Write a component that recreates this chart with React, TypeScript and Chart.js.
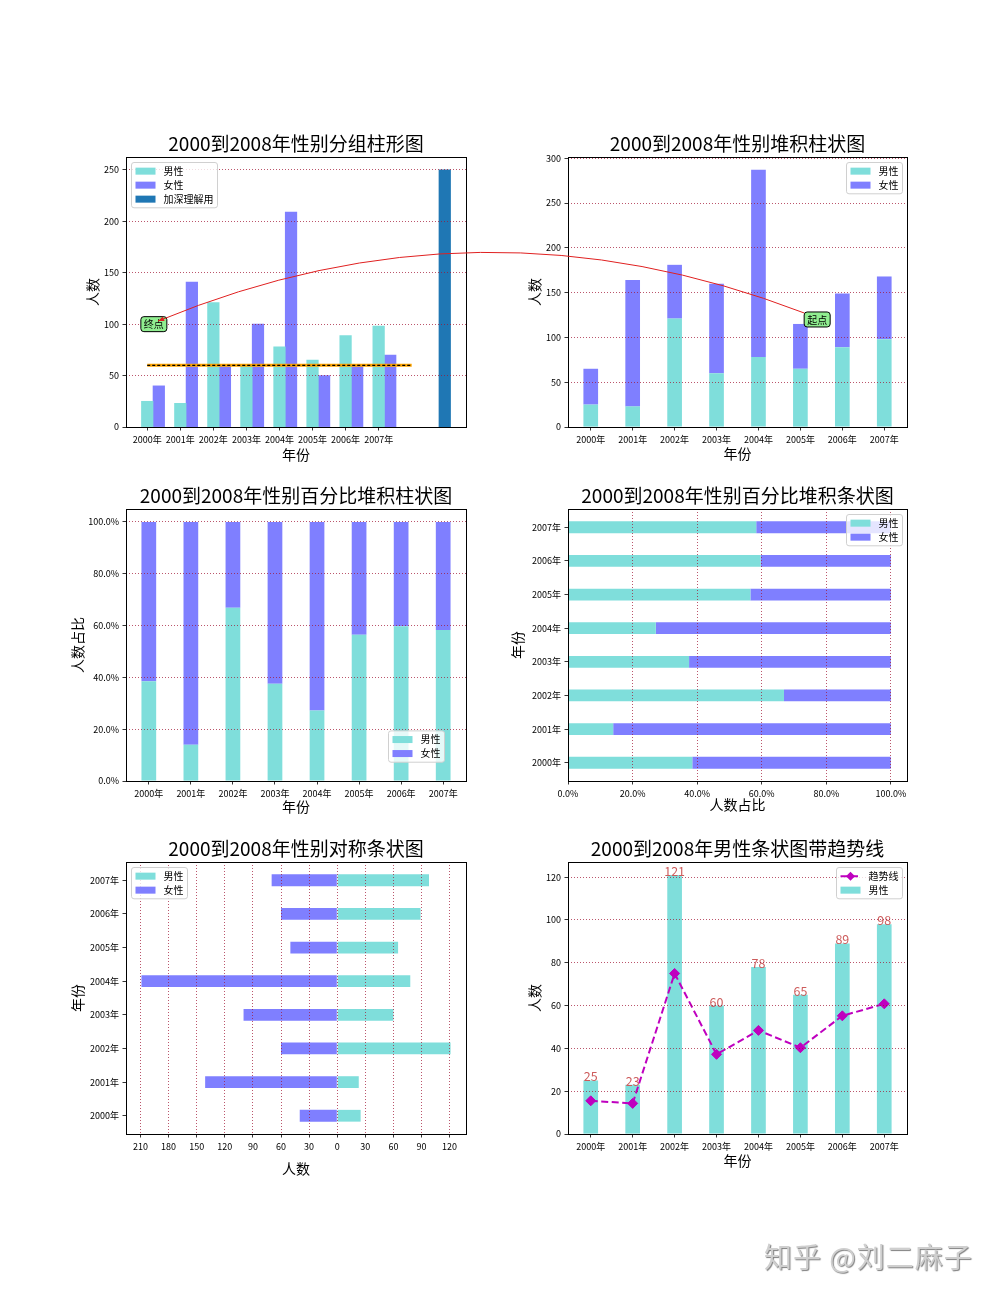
import React, { useEffect, useRef } from 'react';
import { Chart, registerables } from 'chart.js';

Chart.register(...registerables);

const FONT = '"Noto Sans CJK SC", "Noto Sans", sans-serif';

// ---------------- data ----------------
const YEARS = ['2000年', '2001年', '2002年', '2003年', '2004年', '2005年', '2006年', '2007年'];
const YEAR_POS = [0, 1, 2, 3, 4, 5, 6, 7];
const MALE = [25, 23, 121, 60, 78, 65, 89, 98];
const FEMALE = [40, 141, 60, 100, 209, 50, 60, 70];
const MALE_PCT = [38.5, 14.0, 66.9, 37.5, 27.2, 56.5, 59.7, 58.3];
const FEMALE_PCT = [61.5, 86.0, 33.1, 62.5, 72.8, 43.5, 40.3, 41.7];
const TREND = [15.5, 14.3, 75.0, 37.2, 48.4, 40.3, 55.2, 60.8];
const EXTRA_LABEL = '加深理解用';
const EXTRA_X = [9];
const EXTRA_VALUE = [250];
const REF_LINE_VALUE = 60;
const REF_LINE_SPAN = [0, 8];
const GROUP_SHIFT = 0.35;
const TICKS_C1 = [0, 50, 100, 150, 200, 250];
const TICKS_C2 = [0, 50, 100, 150, 200, 250, 300];
const TICKS_PCT = [0, 20, 40, 60, 80, 100];
const TICKS_SYM = [-210, -180, -150, -120, -90, -60, -30, 0, 30, 60, 90, 120];
const TICKS_C6 = [0, 20, 40, 60, 80, 100, 120];
const ANNOT_END = { label: '终点', x: 0.2, y: 100, tipX: 0.33, tipY: 103 };
const ANNOT_START = { label: '起点', x: 5.4, y: 120 };

// ---------------- styles ----------------
const C_MALE = '#7fdedb';
const C_FEMALE = '#7f7fff';
const C_EXTRA = '#1f77b4';
const C_TREND = '#bf00bf';
const C_GRID = 'rgba(160,20,50,0.9)';
const C_LABEL = '#cd5c5c';

const AX_W = 70;
const TITLE_H = 40;
const AX_H = 50;
const PAD_R = 25;

type Rect = { L: number; T: number; R: number; B: number };
const RECTS: Rect[] = [
  { L: 126, T: 157, R: 466, B: 427 },
  { L: 568, T: 157, R: 907, B: 427 },
  { L: 126, T: 509, R: 466, B: 781 },
  { L: 568, T: 509, R: 907, B: 781 },
  { L: 126, T: 862, R: 466, B: 1134 },
  { L: 568, T: 862, R: 907, B: 1134 },
];

const yearFmt = (v: number) => YEARS[Math.round(v)] ?? '';
const numFmt = (v: number) => String(v);
const pctFmt = (v: number) => `${v.toFixed(1)}%`;
const absFmt = (v: number) => String(Math.abs(v));

type AxisSpec = {
  min: number;
  max: number;
  ticks: number[];
  fmt: (v: number) => string;
  grid: boolean;
  title: string;
  titleOffset: number;
  stacked?: boolean;
};

function axis(s: AxisSpec, horizontal: boolean): any {
  return {
    type: 'linear',
    min: s.min,
    max: s.max,
    offset: false,
    stacked: !!s.stacked,
    afterBuildTicks: (sc: any) => {
      sc.ticks = s.ticks.map((v) => ({ value: v }));
    },
    afterFit: (sc: any) => {
      if (horizontal) sc.height = AX_H;
      else sc.width = AX_W;
    },
    ticks: {
      autoSkip: false,
      maxRotation: 0,
      minRotation: 0,
      padding: 3.5,
      color: '#000',
      font: { family: FONT, size: 9 },
      callback: (v: any) => s.fmt(Number(v)),
    },
    grid: {
      display: true,
      drawOnChartArea: s.grid,
      drawTicks: true,
      tickLength: 3.5,
      tickColor: '#000',
      tickWidth: 0.8,
      color: C_GRID,
      lineWidth: 0.8,
      offset: false,
      z: 1,
    },
    border: { display: false, dash: [1, 2] },
    title: {
      display: true,
      text: s.title,
      color: '#000',
      font: { family: FONT, size: 14 },
      padding: horizontal ? { top: 0, bottom: s.titleOffset } : { top: s.titleOffset, bottom: 0 },
    },
  };
}

function baseOptions(title: string, scales: any, extra: any = {}): any {
  return {
    responsive: false,
    maintainAspectRatio: false,
    animation: false,
    layout: { padding: { left: 0, top: 0, right: PAD_R, bottom: 0 } },
    plugins: {
      legend: { display: false },
      tooltip: { enabled: false },
      title: {
        display: true,
        text: title,
        color: '#000',
        font: { family: FONT, size: 19, weight: 'normal' },
        padding: { top: 15.6, bottom: 1.6 },
        fullSize: false,
      },
    },
    scales,
    ...extra,
  };
}

// ---------------- plugins ----------------
const framePlugin = {
  id: 'frame',
  afterDraw(chart: any) {
    const { ctx, chartArea: a } = chart;
    ctx.save();
    ctx.strokeStyle = '#000';
    ctx.lineWidth = 1;
    const l = Math.round(a.left), t = Math.round(a.top), r = Math.round(a.right), b = Math.round(a.bottom);
    ctx.strokeRect(l + 0.5, t + 0.5, r - l, b - t);
    ctx.restore();
  },
};

function roundRect(ctx: CanvasRenderingContext2D, x: number, y: number, w: number, h: number, r: number) {
  ctx.beginPath();
  ctx.moveTo(x + r, y);
  ctx.lineTo(x + w - r, y);
  ctx.quadraticCurveTo(x + w, y, x + w, y + r);
  ctx.lineTo(x + w, y + h - r);
  ctx.quadraticCurveTo(x + w, y + h, x + w - r, y + h);
  ctx.lineTo(x + r, y + h);
  ctx.quadraticCurveTo(x, y + h, x, y + h - r);
  ctx.lineTo(x, y + r);
  ctx.quadraticCurveTo(x, y, x + r, y);
  ctx.closePath();
}

function drawDiamond(ctx: CanvasRenderingContext2D, x: number, y: number, r: number) {
  ctx.beginPath();
  ctx.moveTo(x, y - r);
  ctx.lineTo(x + r, y);
  ctx.lineTo(x, y + r);
  ctx.lineTo(x - r, y);
  ctx.closePath();
  ctx.fill();
}

function legendPlugin(cfg: { labels: string[]; corner: 'ul' | 'ur' | 'lr'; dx?: number; dy?: number }) {
  return {
    id: 'mplLegend',
    afterDraw(chart: any) {
      const ctx: CanvasRenderingContext2D = chart.ctx;
      const a = chart.chartArea;
      ctx.save();
      ctx.font = `10px ${FONT}`;
      const items = cfg.labels.map((l) => ({ label: l, ds: chart.data.datasets.find((d: any) => d.label === l) }));
      const tw = Math.max(...items.map((i) => ctx.measureText(i.label).width));
      const pad = 4, rowH = 9.3, gap = 4.7, hl = 20, htp = 8;
      const w = pad * 2 + hl + htp + tw;
      const h = pad * 2 + items.length * rowH + (items.length - 1) * gap;
      const dx = cfg.dx ?? 5, dy = cfg.dy ?? 5;
      const x = cfg.corner === 'ul' ? a.left + dx : a.right - dx - w;
      const y = cfg.corner === 'lr' ? a.bottom - dy - h : a.top + dy;
      roundRect(ctx, x + 0.5, y + 0.5, w, h, 2.5);
      ctx.fillStyle = 'rgba(255,255,255,0.8)';
      ctx.fill();
      ctx.strokeStyle = '#d0d0d0';
      ctx.lineWidth = 1;
      ctx.stroke();
      items.forEach((it, i) => {
        const cy = y + pad + rowH / 2 + i * (rowH + gap) + 0.5;
        const hx = x + pad + 0.5;
        const ds = it.ds || {};
        if (ds.type === 'line') {
          ctx.strokeStyle = ds.borderColor;
          ctx.lineWidth = ds.borderWidth || 1.5;
          ctx.setLineDash(ds.borderDash || []);
          ctx.beginPath();
          ctx.moveTo(hx, cy);
          ctx.lineTo(hx + hl, cy);
          ctx.stroke();
          ctx.setLineDash([]);
          ctx.fillStyle = ds.pointBackgroundColor || ds.borderColor;
          drawDiamond(ctx, hx + hl / 2, cy, 4.5);
        } else {
          ctx.fillStyle = ds.backgroundColor;
          ctx.fillRect(hx, cy - 3.5, hl, 7);
        }
        ctx.fillStyle = '#000';
        ctx.textAlign = 'left';
        ctx.textBaseline = 'middle';
        ctx.fillText(it.label, hx + hl + htp, cy);
      });
      ctx.restore();
    },
  };
}

function valueLabelPlugin(datasetLabel: string, values: number[]) {
  return {
    id: 'valueLabels',
    afterDatasetsDraw(chart: any) {
      const idx = chart.data.datasets.findIndex((d: any) => d.label === datasetLabel);
      if (idx < 0) return;
      const meta = chart.getDatasetMeta(idx);
      const ctx: CanvasRenderingContext2D = chart.ctx;
      ctx.save();
      ctx.font = `12.5px ${FONT}`;
      ctx.fillStyle = C_LABEL;
      ctx.textAlign = 'center';
      ctx.textBaseline = 'alphabetic';
      meta.data.forEach((el: any, i: number) => {
        ctx.fillText(String(values[i]), el.x, el.y + 1);
      });
      ctx.restore();
    },
  };
}

const barStyle = (pct: number) => ({
  type: 'bar',
  borderWidth: 0,
  barPercentage: pct,
  categoryPercentage: 1,
  grouped: false,
  order: 1,
});

// ---------------- chart configs ----------------
function chart1(): any {
  return {
    type: 'bar',
    data: {
      datasets: [
        {
          type: 'line', label: '参考线', order: 0,
          data: REF_LINE_SPAN.map((x) => ({ x, y: REF_LINE_VALUE })),
          borderColor: 'orange', borderWidth: 3, pointRadius: 0,
        },
        {
          type: 'line', label: '参考线虚线', order: -1,
          data: REF_LINE_SPAN.map((x) => ({ x, y: REF_LINE_VALUE })),
          borderColor: '#000', borderWidth: 1.2, borderDash: [3, 2], pointRadius: 0,
        },
        { ...barStyle(1), label: '男性', backgroundColor: C_MALE, data: YEAR_POS.map((x, i) => ({ x, y: MALE[i] })) },
        { ...barStyle(1), label: '女性', backgroundColor: C_FEMALE, data: YEAR_POS.map((x, i) => ({ x: x + GROUP_SHIFT, y: FEMALE[i] })) },
        { ...barStyle(1), label: EXTRA_LABEL, backgroundColor: C_EXTRA, data: EXTRA_X.map((x, i) => ({ x, y: EXTRA_VALUE[i] })) },
      ],
    },
    options: baseOptions('2000到2008年性别分组柱形图', {
      x: axis({ min: -0.6425, max: 9.6425, ticks: YEAR_POS, fmt: yearFmt, grid: false, title: '年份', titleOffset: 13.6 }, true),
      y: axis({ min: 0, max: 262.5, ticks: TICKS_C1, fmt: numFmt, grid: true, title: '人数', titleOffset: 28.6 }, false),
    }),
    plugins: [framePlugin, legendPlugin({ labels: ['男性', '女性', EXTRA_LABEL], corner: 'ul' })],
  };
}

function chart2(): any {
  return {
    type: 'bar',
    data: {
      datasets: [
        { ...barStyle(0.35), grouped: true, label: '男性', backgroundColor: C_MALE, data: YEAR_POS.map((x, i) => ({ x, y: MALE[i] })) },
        { ...barStyle(0.35), grouped: true, label: '女性', backgroundColor: C_FEMALE, data: YEAR_POS.map((x, i) => ({ x, y: FEMALE[i] })) },
      ],
    },
    options: baseOptions('2000到2008年性别堆积柱状图', {
      x: axis({ min: -0.5425, max: 7.5425, ticks: YEAR_POS, fmt: yearFmt, grid: false, title: '年份', titleOffset: 15.3, stacked: true }, true),
      y: axis({ min: 0, max: 301.35, ticks: TICKS_C2, fmt: numFmt, grid: true, title: '人数', titleOffset: 28.6, stacked: true }, false),
    }),
    plugins: [framePlugin, legendPlugin({ labels: ['男性', '女性'], corner: 'ur' })],
  };
}

function chart3(): any {
  return {
    type: 'bar',
    data: {
      datasets: [
        { ...barStyle(0.35), grouped: true, label: '男性', backgroundColor: C_MALE, data: YEAR_POS.map((x, i) => ({ x, y: MALE_PCT[i] })) },
        { ...barStyle(0.35), grouped: true, label: '女性', backgroundColor: C_FEMALE, data: YEAR_POS.map((x, i) => ({ x, y: FEMALE_PCT[i] })) },
      ],
    },
    options: baseOptions('2000到2008年性别百分比堆积柱状图', {
      x: axis({ min: -0.5425, max: 7.5425, ticks: YEAR_POS, fmt: yearFmt, grid: false, title: '年份', titleOffset: 15.9, stacked: true }, true),
      y: axis({ min: 0, max: 105, ticks: TICKS_PCT, fmt: pctFmt, grid: true, title: '人数占比', titleOffset: 13.6, stacked: true }, false),
    }),
    plugins: [framePlugin, legendPlugin({ labels: ['男性', '女性'], corner: 'lr', dx: 22, dy: 19.3 })],
  };
}

function chart4(): any {
  return {
    type: 'bar',
    data: {
      datasets: [
        { ...barStyle(0.35), grouped: true, label: '男性', backgroundColor: C_MALE, data: YEAR_POS.map((y, i) => ({ x: MALE_PCT[i], y })) },
        { ...barStyle(0.35), grouped: true, label: '女性', backgroundColor: C_FEMALE, data: YEAR_POS.map((y, i) => ({ x: FEMALE_PCT[i], y })) },
      ],
    },
    options: baseOptions(
      '2000到2008年性别百分比堆积条状图',
      {
        x: axis({ min: 0, max: 105, ticks: TICKS_PCT, fmt: pctFmt, grid: true, title: '人数占比', titleOffset: 17.6, stacked: true }, true),
        y: axis({ min: -0.5425, max: 7.5425, ticks: YEAR_POS, fmt: yearFmt, grid: false, title: '年份', titleOffset: 11.6, stacked: true }, false),
      },
      { indexAxis: 'y' }
    ),
    plugins: [framePlugin, legendPlugin({ labels: ['男性', '女性'], corner: 'ur' })],
  };
}

function chart5(): any {
  return {
    type: 'bar',
    data: {
      datasets: [
        { ...barStyle(0.35), label: '男性', backgroundColor: C_MALE, data: YEAR_POS.map((y, i) => ({ x: MALE[i], y })) },
        { ...barStyle(0.35), label: '女性', backgroundColor: C_FEMALE, data: YEAR_POS.map((y, i) => ({ x: -FEMALE[i], y })) },
      ],
    },
    options: baseOptions(
      '2000到2008年性别对称条状图',
      {
        x: axis({ min: -225.5, max: 137.5, ticks: TICKS_SYM, fmt: absFmt, grid: true, title: '人数', titleOffset: 7.3 }, true),
        y: axis({ min: -0.5425, max: 7.5425, ticks: YEAR_POS, fmt: yearFmt, grid: false, title: '年份', titleOffset: 13.6 }, false),
      },
      { indexAxis: 'y' }
    ),
    plugins: [framePlugin, legendPlugin({ labels: ['男性', '女性'], corner: 'ul' })],
  };
}

function chart6(): any {
  return {
    type: 'bar',
    data: {
      datasets: [
        {
          type: 'line', label: '趋势线', order: 0,
          data: YEAR_POS.map((x, i) => ({ x, y: TREND[i] })),
          borderColor: C_TREND, borderWidth: 2, borderDash: [7, 3.5],
          pointStyle: 'rectRot', pointRadius: 5, pointBackgroundColor: C_TREND, pointBorderColor: C_TREND, pointBorderWidth: 1,
          tension: 0, fill: false,
        },
        { ...barStyle(0.35), label: '男性', backgroundColor: C_MALE, data: YEAR_POS.map((x, i) => ({ x, y: MALE[i] })) },
      ],
    },
    options: baseOptions('2000到2008年男性条状图带趋势线', {
      x: axis({ min: -0.5425, max: 7.5425, ticks: YEAR_POS, fmt: yearFmt, grid: false, title: '年份', titleOffset: 14.9 }, true),
      y: axis({ min: 0, max: 127.05, ticks: TICKS_C6, fmt: numFmt, grid: true, title: '人数', titleOffset: 28.6 }, false),
    }),
    plugins: [framePlugin, valueLabelPlugin('男性', MALE), legendPlugin({ labels: ['趋势线', '男性'], corner: 'ur' })],
  };
}

const MAKERS = [chart1, chart2, chart3, chart4, chart5, chart6];

// ---------------- cross-axes annotation ----------------
function drawAnnotation(canvas: HTMLCanvasElement, c1: any, c2: any) {
  const dpr = window.devicePixelRatio || 1;
  canvas.width = 1008 * dpr;
  canvas.height = 1296 * dpr;
  const ctx = canvas.getContext('2d')!;
  ctx.setTransform(dpr, 0, 0, dpr, 0, 0);
  ctx.clearRect(0, 0, 1008, 1296);
  const off = (i: number) => ({ x: RECTS[i].L - AX_W, y: RECTS[i].T - TITLE_H });
  const o1 = off(0), o2 = off(1);
  const px = (ch: any, o: { x: number; y: number }, x: number, y: number) => ({
    x: o.x + ch.scales.x.getPixelForValue(x),
    y: o.y + ch.scales.y.getPixelForValue(y),
  });
  const endC = px(c1, o1, ANNOT_END.x, ANNOT_END.y);
  const tip = px(c1, o1, ANNOT_END.tipX, ANNOT_END.tipY);
  const startC = px(c2, o2, ANNOT_START.x, ANNOT_START.y);
  ctx.font = `10px ${FONT}`;
  const box = (c: { x: number; y: number }, label: string) => {
    const tw = ctx.measureText(label).width;
    const w = tw + 6, h = 15;
    roundRect(ctx, c.x - w / 2, c.y - h / 2, w, h, 3);
    ctx.fillStyle = '#90ee90';
    ctx.fill();
    ctx.strokeStyle = '#000';
    ctx.lineWidth = 1;
    ctx.stroke();
    ctx.fillStyle = '#000';
    ctx.textAlign = 'center';
    ctx.textBaseline = 'middle';
    ctx.fillText(label, c.x, c.y + 0.5);
    return { w, h };
  };
  box(endC, ANNOT_END.label);
  const sb = box(startC, ANNOT_START.label);
  const p0 = { x: startC.x - sb.w / 2, y: startC.y - sb.h / 2 + 1 };
  const p2 = tip;
  const rad = 0.2;
  const mx = (p0.x + p2.x) / 2, my = (p0.y + p2.y) / 2;
  const dx = p2.x - p0.x, dy = p2.y - p0.y;
  const cx = mx - rad * dy, cy = my + rad * dx;
  ctx.strokeStyle = '#e02020';
  ctx.lineWidth = 1;
  ctx.beginPath();
  ctx.moveTo(p0.x, p0.y);
  ctx.quadraticCurveTo(cx, cy, p2.x, p2.y);
  ctx.stroke();
  const ang = Math.atan2(p2.y - cy, p2.x - cx);
  const hl = 6, hw = 2.5;
  ctx.fillStyle = '#e02020';
  ctx.beginPath();
  ctx.moveTo(p2.x, p2.y);
  ctx.lineTo(p2.x - hl * Math.cos(ang) + hw * Math.sin(ang), p2.y - hl * Math.sin(ang) - hw * Math.cos(ang));
  ctx.lineTo(p2.x - hl * Math.cos(ang) - hw * Math.sin(ang), p2.y - hl * Math.sin(ang) + hw * Math.cos(ang));
  ctx.closePath();
  ctx.fill();
}

export default function App() {
  const refs = useRef<(HTMLCanvasElement | null)[]>([]);
  const overlayRef = useRef<HTMLCanvasElement | null>(null);

  useEffect(() => {
    const charts = MAKERS.map((make, i) => new Chart(refs.current[i] as HTMLCanvasElement, make()));
    if (overlayRef.current) drawAnnotation(overlayRef.current, charts[0], charts[1]);
    return () => {
      charts.forEach((c) => c.destroy());
    };
  }, []);

  return (
    <div style={{ position: 'absolute', left: 0, top: 0, width: 1008, height: 1296, background: '#fff', overflow: 'hidden' }}>
      {RECTS.map((r, i) => {
        const w = r.R - r.L + AX_W + PAD_R;
        const h = r.B - r.T + TITLE_H + AX_H;
        return (
          <canvas
            key={i}
            ref={(el) => {
              refs.current[i] = el;
            }}
            width={w}
            height={h}
            style={{ position: 'absolute', left: r.L - AX_W, top: r.T - TITLE_H, width: w, height: h }}
          />
        );
      })}
      <canvas
        ref={overlayRef}
        style={{ position: 'absolute', left: 0, top: 0, width: 1008, height: 1296, pointerEvents: 'none' }}
      />
      <div
        style={{
          position: 'absolute',
          left: 764,
          top: 1236,
          fontFamily: FONT,
          fontSize: 28,
          color: '#cfcfcf',
          textShadow: '1px 1px 1px #808080',
          whiteSpace: 'nowrap',
          letterSpacing: 1,
        }}
      >
        知乎 @刘二麻子
      </div>
    </div>
  );
}
